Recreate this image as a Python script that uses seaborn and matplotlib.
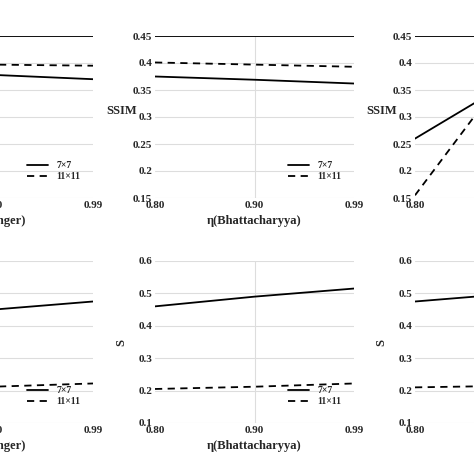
import matplotlib
matplotlib.use("Agg")
import matplotlib.pyplot as plt
import seaborn as sns
import pandas as pd

eta = ["0.80", "0.90", "0.99"]
series = ["7×7", "11×11"]

# top row: SSIM, bottom row: S ; columns Hellinger, Bhattacharyya, third (cut off)
ssim_hel_7 = [0.385, 0.378, 0.370]
ssim_hel_11 = [0.398, 0.397, 0.395]
ssim_bha_7 = [0.375, 0.369, 0.362]
ssim_bha_11 = [0.401, 0.397, 0.393]
ssim_3_7 = [0.26, 0.37, 0.38]
ssim_3_11 = [0.155, 0.40, 0.40]

s_hel_7 = [0.43, 0.45, 0.475]
s_hel_11 = [0.205, 0.212, 0.222]
s_bha_7 = [0.46, 0.49, 0.515]
s_bha_11 = [0.205, 0.212, 0.222]
s_3_7 = [0.475, 0.50, 0.52]
s_3_11 = [0.21, 0.215, 0.22]

xlabels = ["η(Hellinger)", "η(Bhattacharyya)", "η(Euclidean)"]

sns.set_theme(style="white")
plt.rcParams['font.family'] = ['Liberation Serif', 'DejaVu Serif']
plt.rcParams['font.weight'] = 'bold'

fig = plt.figure(figsize=(4.74, 4.74), dpi=100)
W = 474.0
lefts = [-106, 155, 415]
tops = [(36, 198), (261, 423)]


def draw(ax, a, b, ylim, step, ylabel, xlabel, legend, dark_top):
    df = pd.DataFrame({"eta": eta * 2, "v": a + b,
                       "k": [series[0]] * 3 + [series[1]] * 3})
    sns.lineplot(data=df, x="eta", y="v", style="k", color="black",
                 linewidth=1.3, ax=ax, legend=legend,
                 dashes={series[0]: "", series[1]: (4, 3)})
    ax.set_ylim(*ylim)
    ax.set_xlim(0, 2)
    ticks = [round(ylim[0] + i * step, 2) for i in range(int(round((ylim[1] - ylim[0]) / step)) + 1)]
    ax.set_yticks(ticks)
    ax.set_yticklabels([f"{t:g}" for t in ticks], fontsize=8)
    ax.set_xticks([0, 1, 2])
    ax.set_xticklabels(eta, fontsize=8)
    for t in ticks:
        ax.axhline(t, color="#dddddd", lw=0.8, zorder=0)
    if dark_top:
        ax.axhline(ylim[1], color="black", lw=1.3)
    ax.axvline(1, color="#dddddd", lw=0.8, zorder=0)
    for s in ax.spines.values():
        s.set_visible(False)
    ax.tick_params(length=0, pad=2)
    ax.set_xlabel(xlabel, fontsize=9, fontweight="bold", labelpad=4)
    ax.set_ylabel(ylabel, fontsize=9, fontweight="bold", rotation=0 if ylabel == "SSIM" else 90, labelpad=8)
    if legend:
        ax.legend(loc="lower right", bbox_to_anchor=(0.98, 0.05), frameon=False,
                  fontsize=7, handlelength=2.2, labelspacing=0.2, title=None)


top_data = [(ssim_hel_7, ssim_hel_11), (ssim_bha_7, ssim_bha_11), (ssim_3_7, ssim_3_11)]
bot_data = [(s_hel_7, s_hel_11), (s_bha_7, s_bha_11), (s_3_7, s_3_11)]
for row, (data, ylim, step, ylabel) in enumerate([
        (top_data, (0.15, 0.45), 0.05, "SSIM"),
        (bot_data, (0.1, 0.6), 0.1, "S")]):
    y0, y1 = tops[row]
    for c in range(3):
        ax = fig.add_axes([lefts[c] / W, (W - y1) / W, 199 / W, (y1 - y0) / W])
        draw(ax, data[c][0], data[c][1], ylim, step, ylabel, xlabels[c],
             "auto" if c < 2 else False, row == 0)

fig.savefig("out.png", dpi=100)
